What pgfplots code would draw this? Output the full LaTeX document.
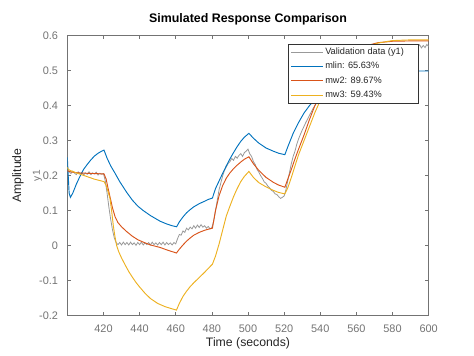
\documentclass[border=0pt]{standalone}
\usepackage{fontspec}
\setmainfont{Liberation Sans}
\usepackage{pgfplots}
\pgfplotsset{compat=1.18}
\usepackage{pgfplotstable}
\definecolor{mblue}{rgb}{0,0.447,0.741}
\definecolor{mred}{rgb}{0.85,0.325,0.098}
\definecolor{myel}{rgb}{0.929,0.694,0.125}
\definecolor{mgray}{rgb}{0.6,0.6,0.6}
\definecolor{axgray}{rgb}{0.45,0.45,0.45}

\pgfplotstableread{
t v
400 0.215
401 0.211
402 0.206
403 0.213
404 0.207
405 0.203
406 0.211
407 0.205
408 0.209
409 0.202
410 0.208
411 0.204
412 0.211
413 0.203
414 0.208
415 0.205
416 0.210
417 0.202
418 0.207
419 0.204
420 0.206
421 0.185
422 0.150
423 0.110
424 0.075
425 0.045
426 0.022
427 0.009
428 0.003
429 0.009
430 0.002
431 0.010
432 0.003
433 0.009
434 0.002
435 0.010
436 0.003
437 0.008
438 0.001
439 0.009
440 0.003
441 0.010
442 0.002
443 0.008
444 0.003
445 0.009
446 0.002
447 0.010
448 0.003
449 0.008
450 0.002
451 0.009
452 0.003
453 0.010
454 0.002
455 0.009
456 0.003
457 0.008
458 0.002
459 0.009
460 0.005
461 0.020
462 0.032
463 0.030
464 0.042
465 0.038
466 0.050
467 0.045
468 0.053
469 0.048
470 0.057
471 0.050
472 0.059
473 0.052
474 0.060
475 0.053
476 0.057
477 0.050
478 0.055
479 0.048
480 0.052
481 0.070
482 0.100
483 0.130
484 0.160
485 0.180
486 0.200
487 0.215
488 0.225
489 0.235
490 0.240
491 0.249
492 0.244
493 0.255
494 0.250
495 0.258
496 0.263
497 0.255
498 0.266
499 0.270
500 0.276
501 0.262
502 0.255
503 0.240
504 0.232
505 0.218
506 0.210
507 0.200
508 0.192
509 0.182
510 0.178
511 0.170
512 0.165
513 0.158
514 0.155
515 0.148
516 0.146
517 0.140
518 0.135
519 0.138
520 0.142
521 0.160
522 0.185
523 0.210
524 0.235
525 0.255
526 0.270
527 0.290
528 0.305
529 0.318
530 0.330
532 0.352
534 0.372
536 0.392
538 0.408
540 0.422
543 0.442
546 0.462
549 0.480
552 0.497
555 0.512
558 0.525
561 0.538
564 0.546
567 0.554
570 0.558
573 0.562
576 0.565
579 0.566
582 0.568
585 0.567
588 0.570
591 0.568
593 0.572
594 0.566
595 0.574
596 0.565
597 0.572
598 0.566
599 0.575
600 0.569
}\valid

\pgfplotstableread{
t v
400 0.252
400.5 0.200
401 0.150
401.7 0.138
403 0.150
405 0.176
407 0.198
409 0.218
411 0.232
413 0.245
415 0.256
417 0.264
419 0.270
420.3 0.273
422 0.250
424 0.228
426.4 0.207
429 0.183
432.9 0.152
436 0.130
439 0.113
442.1 0.100
446 0.086
451.3 0.070
455 0.062
458 0.057
460.5 0.054
462 0.068
464 0.082
466 0.094
468 0.103
470 0.111
473 0.120
476 0.127
478 0.132
480.3 0.136
482 0.163
484 0.185
486 0.207
488 0.228
490 0.248
492 0.266
494 0.283
496 0.298
498 0.310
500.5 0.321
503 0.307
506 0.293
510 0.279
514 0.270
517 0.264
520.4 0.260
522 0.282
525 0.321
528 0.352
531 0.379
534 0.400
537 0.418
540 0.432
545 0.452
550 0.468
560 0.485
570 0.493
580 0.497
590 0.499
600 0.499
}\mlin

\pgfplotstableread{
t v
400 0.215
401 0.212
403 0.210
406 0.208
410 0.207
415 0.206
420.3 0.205
421.5 0.190
422.5 0.165
423.6 0.140
425 0.108
426.4 0.083
428 0.066
430 0.054
432.9 0.040
436 0.027
439 0.017
442.1 0.010
446 0.002
451.3 -0.005
455 -0.012
458 -0.017
460.4 -0.021
462 -0.010
464 0.002
466 0.013
468 0.022
470 0.030
473 0.038
476 0.044
478 0.047
480.3 0.050
482 0.100
484 0.143
486 0.172
488 0.193
490 0.208
492 0.220
494 0.230
496 0.239
498 0.247
500.5 0.254
503 0.234
506 0.215
510 0.195
514 0.181
517 0.173
520.4 0.167
522 0.190
524 0.218
526 0.248
528 0.276
531 0.316
534 0.360
537 0.400
540 0.432
545 0.470
550 0.505
555 0.530
560 0.552
566 0.572
572 0.580
580 0.584
590 0.585
600 0.585
}\mwtwo

\pgfplotstableread{
t v
400 0.224
400.5 0.218
402 0.214
405 0.208
410 0.199
415 0.190
420.3 0.183
421.5 0.172
422.5 0.155
423.6 0.135
424.5 0.100
425.5 0.055
426.4 0.025
427.3 0.000
428.5 -0.018
430 -0.035
432 -0.055
434 -0.074
436 -0.090
438 -0.105
440 -0.118
443 -0.136
446 -0.151
450 -0.165
454 -0.174
457 -0.179
460.4 -0.184
462 -0.165
464 -0.145
466 -0.130
468 -0.117
470 -0.106
473 -0.091
476 -0.076
478 -0.065
480.3 -0.053
482 -0.030
484 0.005
486 0.045
488 0.085
490 0.113
492 0.140
494 0.163
496 0.183
498 0.198
500.5 0.212
503 0.195
506 0.180
510 0.168
514 0.158
517 0.152
520.4 0.148
522 0.165
524 0.195
526 0.228
528 0.260
531 0.300
534 0.340
537 0.380
540 0.415
545 0.460
550 0.495
555 0.525
560 0.548
566 0.568
572 0.579
580 0.586
590 0.588
600 0.588
}\mwthree

\begin{document}
\begin{tikzpicture}
\useasboundingbox (0,0) rectangle (355.5pt,266.25pt);
\begin{axis}[
  at={(50.5pt,29.5pt)}, anchor=south west,
  scale only axis, width=271pt, height=210pt,
  xmin=400, xmax=600, ymin=-0.2, ymax=0.6,
  xtick={420,440,...,600},
  ytick={-0.2,-0.1,0,0.1,0.2,0.3,0.4,0.5,0.6},
  yticklabels={-0.2,-0.1,0,0.1,0.2,0.3,0.4,0.5,0.6},
  tick align=inside, tick pos=both,
  major tick length=2.6pt,
  axis line style={axgray, line width=0.5pt},
  every tick/.style={axgray, line width=0.5pt},
  /pgf/number format/assume math mode=true,
  ticklabel style={font=\fontsize{8.2}{9}\selectfont, text=axgray},
  xticklabel style={anchor=base, yshift=-12.4pt},
  yticklabel style={anchor=east, inner sep=0pt, xshift=-6.8pt},
  title={\bfseries Simulated Response Comparison},
  title style={at={(0.5,1)}, anchor=base, yshift=3.6pt, font=\fontsize{9.3}{11}\selectfont},
  xlabel={Time (seconds)},
  xlabel style={at={(0.5,0)}, anchor=base, yshift=-23pt, font=\fontsize{9.2}{11}\selectfont, text=black!85},
  legend style={at={(1,1)}, anchor=north east, xshift=-7.3pt, yshift=-6.2pt,
    draw=black!80, fill=white, line width=0.5pt,
    font=\fontsize{6.9}{7}\selectfont, text=black!85,
    inner xsep=1.8pt, inner ysep=0.5pt, row sep=0pt,
    nodes={inner ysep=2.4pt, inner xsep=1.2pt, text height=4.8pt, text depth=1.2pt}},
  legend cell align=left,
  legend image code/.code={\draw[#1, line width=0.8pt] (0pt,0pt) -- (24pt,0pt);},
  every axis plot/.append style={line width=0.7pt},
  clip mode=individual,
]
\addplot[mgray, line width=0.6pt] table[x=t, y=v] {\valid};
\addlegendentry{\makebox[67pt][l]{Validation data (y1)}}
\addplot[mblue] table[x=t, y=v] {\mlin};
\addlegendentry{mlin: 65.63\%}
\addplot[mred] table[x=t, y=v] {\mwtwo};
\addlegendentry{mw2: 89.67\%}
\addplot[myel] table[x=t, y=v] {\mwthree};
\addlegendentry{mw3: 59.43\%}
\node[rotate=90, font=\fontsize{9.2}{11}\selectfont, text=black!85] at ([xshift=-37pt]rel axis cs:0,0.5) {Amplitude};
\node[rotate=90, font=\fontsize{7.6}{9}\selectfont, text=axgray] at ([xshift=-22.5pt]rel axis cs:0,0.5) {y1};
\end{axis}
\end{tikzpicture}
\end{document}
